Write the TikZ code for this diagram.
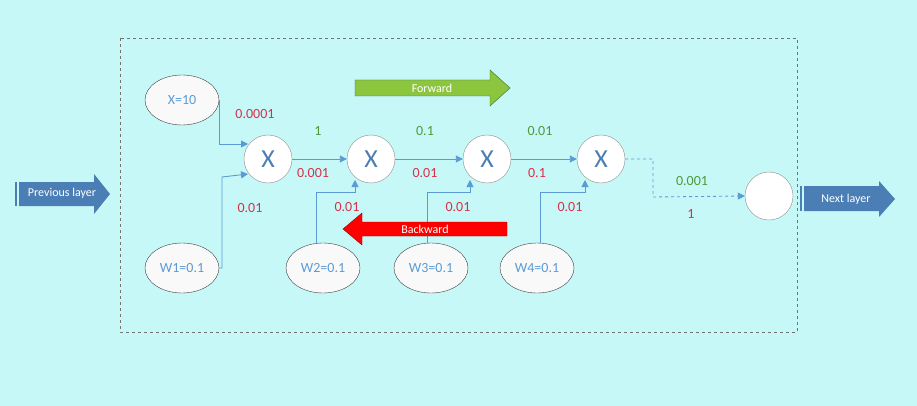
\documentclass[tikz,border=0pt]{standalone}
\usepackage{fontspec}
\setmainfont{Carlito}
\usetikzlibrary{arrows.meta,shapes.geometric}
\definecolor{bg}{HTML}{C6F8F8}
\definecolor{lb}{HTML}{5B9BD5}
\definecolor{db}{HTML}{4A7EB5}
\definecolor{rd}{HTML}{D9304A}
\definecolor{gn}{HTML}{4E9A3A}
\definecolor{fw}{HTML}{8CC63F}
\tikzset{
 inp/.style={ellipse,draw=black!75,fill=white!95!gray,minimum width=74pt,minimum height=50pt,text=lb,font=\fontsize{14}{14}\selectfont,inner sep=0pt},
 mul/.style={circle,draw=black!45,fill=white,minimum size=48pt,text=db,font=\fontsize{26}{26}\selectfont,inner sep=0pt},
 con/.style={draw=lb,line width=0.9pt,-{Triangle[length=7pt,width=7pt]}},
 rl/.style={text=rd,font=\fontsize{14}{14}\selectfont},
 gl/.style={text=gn,font=\fontsize{14}{14}\selectfont},
 bigarrow/.style={fill=db,draw=none},
 atxt/.style={text=white,font=\fontsize{12}{12}\selectfont},
}
\begin{document}
\begin{tikzpicture}[x=1pt,y=-1pt]
\fill[bg] (0,0) rectangle (917,406);
\useasboundingbox (0,0) rectangle (917,406);
\draw[black!55,dashed,line width=0.8pt] (120,38) rectangle (797,332);
% nodes
\node[inp] (x) at (182,100) {X=10};
\node[inp] (w1) at (182,268) {W1=0.1};
\node[inp] (w2) at (323,268) {W2=0.1};
\node[inp] (w3) at (431,268) {W3=0.1};
\node[inp] (w4) at (537,268) {W4=0.1};
\node[mul] (m1) at (268,159) {X};
\node[mul] (m2) at (371,159) {X};
\node[mul] (m3) at (487,159) {X};
\node[mul] (m4) at (601,159) {X};
\node[circle,draw=black!45,fill=white,minimum size=48pt] (o) at (769,196) {};
% connectors
\coordinate (a1) at (248,144);
\coordinate (a2) at (248,174);
\draw[con] (x.east) -- (219,100) -- (219,144) -- (a1);
\draw[con] (w1.east) -- (222,268) -- (222,177) -- (a2);
\draw[con] (m1) -- (m2);
\draw[con] (m2) -- (m3);
\draw[con] (m3) -- (m4);
\draw[con] (w2.north -| 316,0) -- (316,192) -- (355,192) -- (355,180);
\draw[con] (w3.north -| 427,0) -- (427,192) -- (470,192) -- (470,180);
\draw[con] (w4.north -| 540,0) -- (540,192) -- (585,192) -- (585,180);
\draw[con,dashed] (m4.east) -- (653,159) -- (653,197) -- (o.west);
% labels
\node[rl] at (255,114) {0.0001};
\node[gl] at (318,131) {1};
\node[gl] at (425,131) {0.1};
\node[gl] at (540,131) {0.01};
\node[rl] at (313,173) {0.001};
\node[rl] at (425,173) {0.01};
\node[rl] at (537,173) {0.1};
\node[rl] at (250,208) {0.01};
\node[rl] at (347,207) {0.01};
\node[rl] at (458,207) {0.01};
\node[rl] at (570,207) {0.01};
\node[gl] at (692,181) {0.001};
\node[rl] at (691,214) {1};
% forward / backward
\fill[fw,draw=gn!70!black,line width=0.4pt] (355,80) -- (490,80) -- (490,70) -- (510,88) -- (490,106) -- (490,96) -- (355,96) -- cycle;
\node[atxt] at (432,88) {Forward};
\fill[red,draw=red!60!black,line width=0.4pt] (507,222) -- (362,222) -- (362,213) -- (343,229) -- (362,245) -- (362,236) -- (507,236) -- cycle;
\node[atxt] at (425,229) {Backward};
% layer arrows
\fill[bigarrow] (15,182) rectangle (17,206);
\fill[bigarrow] (19,182) -- (94,182) -- (94,174) -- (110,194) -- (94,214) -- (94,206) -- (19,206) -- cycle;
\node[atxt] at (62,193) {Previous layer};
\fill[bigarrow] (800,186) rectangle (802,211);
\fill[bigarrow] (804,186) -- (879,186) -- (879,181) -- (895,199) -- (879,217) -- (879,211) -- (804,211) -- cycle;
\node[atxt] at (846,199) {Next layer};
\end{tikzpicture}
\end{document}
